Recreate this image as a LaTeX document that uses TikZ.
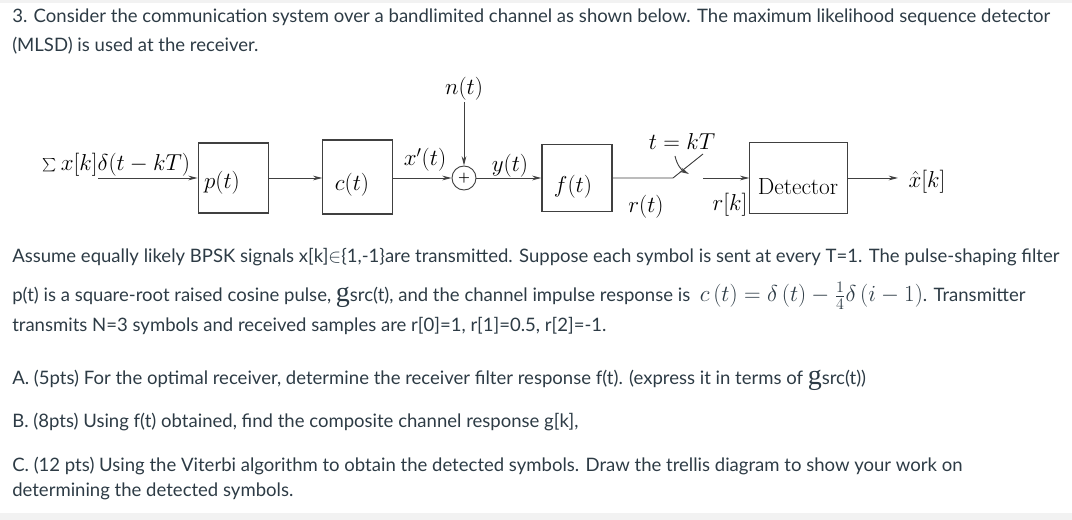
\documentclass[tikz,border=0pt]{standalone}
\usepackage{fontspec}
\newfontfamily\lato{Lato}
\newfontfamily\gfont{Liberation Serif}
\usetikzlibrary{arrows.meta,positioning}
\definecolor{canvastext}{HTML}{2D3B45}

\tikzset{
  blk/.style={draw=black!75, line width=0.8pt, inner sep=0pt},
  sig/.style={font=\fontsize{17.5}{20}\selectfont, inner sep=1pt},
  para/.style={anchor=base west, inner sep=0pt, text=canvastext, font=\lato\fontsize{13.9}{16}\selectfont},
  wire/.style={draw=black!75, line width=0.7pt},
  con/.style={wire, -{Stealth[length=7pt,width=3.5pt]}},
}
\newcommand{\gsrc}{{\gfont\fontsize{21}{21}\selectfont g}src(t)}

\begin{document}
\begin{tikzpicture}[x=0.75pt,y=-0.75pt]
	\useasboundingbox (0,0) rectangle (1072,520);
	\fill[black!5] (0,0) rectangle (1072,3);
	\fill[black!5] (0,513) rectangle (1072,520);
	% question text
	\node[para] (l1) at (12,23) {3. Consider the communication system over a bandlimited channel as shown below. The maximum likelihood sequence detector};
	\node[para] (l2) at (12,52) {(MLSD) is used at the receiver.};
	\node[para] (l3) at (12,263) {Assume equally likely BPSK signals x[k]$\in$\{1,-1\}are transmitted. Suppose each symbol is sent at every T=1. The pulse-shaping filter};
	\node[para] (l4) at (12,302) {p(t) is a square-root raised cosine pulse, \gsrc, and the channel impulse response is\ \ {\fontsize{16.6}{18}\selectfont$c\left(t\right)=\delta\left(t\right)-\frac{1}{4}\delta\left(i-1\right)$}. Transmitter};
	\node[para] (l5) at (12,332) {transmits N=3 symbols and received samples are r[0]=1, r[1]=0.5, r[2]=-1.};
	\node[para] (qa) at (12,385) {A. (5pts) For the optimal receiver, determine the receiver filter response f(t). (express it in terms of \gsrc)};
	\node[para] (qb) at (12,428) {B. (8pts) Using f(t) obtained, find the composite channel response g[k],};
	\node[para] (qc) at (12,471) {C. (12 pts) Using the Viterbi algorithm to obtain the detected symbols. Draw the trellis diagram to show your work on};
	\node[para] (qd) at (12,497) {determining the detected symbols.};
	% blocks
	\node[blk, minimum width=53pt, minimum height=52.5pt] (pbox) at (233.5,178) {};
	\node[blk, minimum width=52pt, minimum height=55.5pt] (cbox) at (357.5,177) {};
	\node[blk, minimum width=52.5pt, minimum height=50pt] (fbox) at (577,178) {};
	\node[blk, minimum width=73pt, minimum height=53pt] (det) at (798.5,178) {};
	\node[sig] (plab) at (222,183) {$p(t)$};
	\node[sig] (clab) at (352,185) {$c(t)$};
	\node[sig] (flab) at (573,187) {$f(t)$};
	\node[sig] (dlab) at (798,187) {Detector};
	\node[wire, circle, minimum size=18pt, inner sep=0pt, font=\fontsize{10}{10}\selectfont\bfseries] (add) at (464,178) {+};
	% signals
	\coordinate (src) at (98,178);
	\node[sig, font=\fontsize{18.5}{20}\selectfont] (srclab) at (116.5,165) {$\sum x[k]\delta(t-kT)$};
	\node[sig] (noise) at (464,89) {$n(t)$};
	\node[sig] (xp) at (425,160) {$x'(t)$};
	\node[sig] (ylab) at (510,166) {$y(t)$};
	\node[sig] (tk) at (682,142) {$t=kT$};
	\node[sig] (rt) at (646,207) {$r(t)$};
	\node[sig] (rk) at (730,205) {$r[k]$};
	\coordinate (sw1) at (673,178);
	\coordinate (swtip) at (703,154);
	\coordinate (sw2) at (703,178);
	\coordinate (arc1) at (675,156);
	\coordinate (arc2) at (689,174);
	\coordinate (out) at (898,178);
	\node[sig] (xhat) at (927,182) {$\hat{x}[k]$};
	\draw[con] (src) -- (pbox.west);
	\draw[con] (pbox.east) -- (cbox.west |- pbox.east);
	\draw[con] (cbox.east |- add) -- (add.west);
	\draw[con] (noise.south) -- (add.north);
	\draw[con] (add.east) -- (fbox.west);
	\draw[wire] (fbox.east) -- (sw1) -- (swtip);
	\draw[con] (arc1) to[bend right=25] (arc2);
	\draw[con] (sw2) -- (det.west);
	\draw[con] (det.east) -- (out);
\end{tikzpicture}
\end{document}
